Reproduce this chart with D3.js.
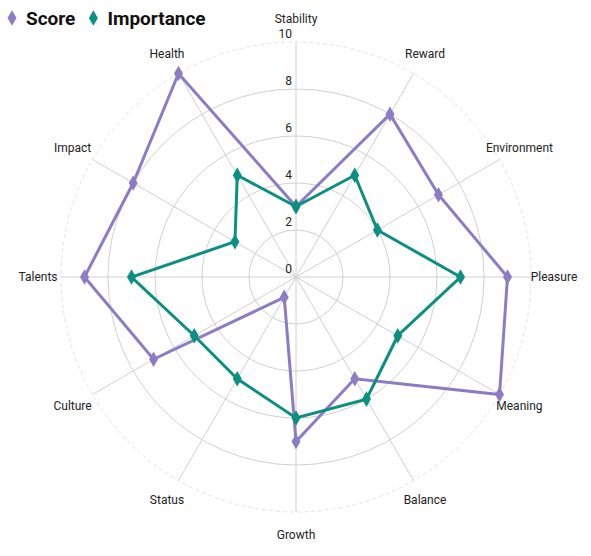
<!DOCTYPE html>
<html><head><meta charset="utf-8">
<script src="https://cdn.jsdelivr.net/npm/d3@7"></script>
<style>body{margin:0;background:#fff;font-family:Roboto,sans-serif}</style>
</head><body><svg id="chart" width="591" height="556"></svg>
<script>
const axes = ['Stability','Reward','Environment','Pleasure','Meaning','Balance','Growth','Status','Culture','Talents','Impact','Health'];
const score = [3, 8, 7, 9, 10, 5, 7, 1, 7, 9, 8, 10];
const importance = [3, 5, 4, 7, 5, 6, 6, 5, 5, 7, 3, 5];
const ticks = [0, 2, 4, 6, 8, 10];
const series = [
  {name: 'Score', values: score, color: '#8c7cc4'},
  {name: 'Importance', values: importance, color: '#0b8f80'}
];

const svg = d3.select('#chart');
const cx = 296, cy = 277;
const r = d3.scaleLinear().domain([0, 10]).range([0, 235]);
const ang = d3.scalePoint().domain(axes).range([0, 2 * Math.PI * 11 / 12]);
const pt = (a, v) => [cx + r(v) * Math.sin(ang(a)), cy - r(v) * Math.cos(ang(a))];

const grid = svg.append('g');
grid.selectAll('circle').data(ticks.slice(1)).join('circle')
  .attr('cx', cx).attr('cy', cy).attr('r', d => r(d))
  .attr('fill', 'none').attr('stroke', d => d === 10 ? '#e4e4e4' : '#d0d0d0')
  .attr('stroke-dasharray', d => d === 10 ? '4,3' : null);
grid.selectAll('line').data(axes).join('line')
  .attr('x1', cx).attr('y1', cy)
  .attr('x2', d => pt(d, 10)[0]).attr('y2', d => pt(d, 10)[1])
  .attr('stroke', '#d0d0d0');

svg.append('g').selectAll('text').data(ticks).join('text')
  .attr('x', cx - 4).attr('y', d => cy - r(d) - 4)
  .attr('text-anchor', 'end').attr('font-size', 12).attr('fill', '#222')
  .text(d => d);

svg.append('g').selectAll('text').data(axes).join('text')
  .attr('x', d => cx + 258 * Math.sin(ang(d)))
  .attr('y', d => cy - 258 * Math.cos(ang(d)) + 4)
  .attr('text-anchor', 'middle').attr('font-size', 12).attr('fill', '#222')
  .text(d => d);

const line = d3.line().curve(d3.curveLinearClosed);
series.forEach(s => {
  const pts = axes.map((a, i) => pt(a, s.values[i]));
  svg.append('path').attr('d', line(pts)).attr('fill', 'none')
    .attr('stroke', s.color).attr('stroke-width', 3);
  svg.append('g').selectAll('path').data(pts).join('path')
    .attr('d', d3.symbol(d3.symbolDiamond, 70)())
    .attr('transform', d => `translate(${d[0]},${d[1]})`)
    .attr('fill', s.color);
});

// legend
const lg = svg.append('g');
let lx = 12;
series.forEach(s => {
  lg.append('path').attr('d', d3.symbol(d3.symbolDiamond, 70)())
    .attr('transform', `translate(${lx},18)`).attr('fill', s.color);
  const t = lg.append('text').attr('x', lx + 14).attr('y', 25)
    .attr('font-size', 19).attr('font-weight', 'bold').attr('fill', '#111').text(s.name);
  lx += 14 + t.node().getComputedTextLength() + 18;
});
</script></body></html>
